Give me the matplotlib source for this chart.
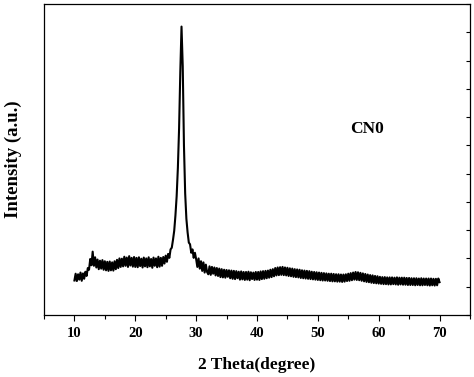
import numpy as np
import matplotlib.pyplot as plt
from matplotlib.ticker import MultipleLocator

# 2 theta scan grid (0.2 degree step, 10 to 70 degree)
two_theta = np.round(np.arange(10.0, 70.0001, 0.2), 1)

# intensity (arbitrary units), ten points per row
intensity = [
    1.22, 1.46, 1.20, 1.44, 1.25, 1.50, 1.21, 1.47, 1.28, 1.53,
    1.38, 1.66, 1.60, 1.98, 1.76, 2.24, 1.74, 2.04, 1.68, 1.96,
    1.62, 1.92, 1.64, 1.94, 1.60, 1.90, 1.58, 1.88, 1.56, 1.89,
    1.58, 1.86, 1.57, 1.90, 1.62, 1.95, 1.66, 2.00, 1.70, 1.99,
    1.72, 2.06, 1.74, 2.03, 1.70, 2.08, 1.75, 2.02, 1.71, 2.05,
    1.70, 2.02, 1.69, 2.04, 1.73, 1.99, 1.68, 2.03, 1.72, 2.00,
    1.69, 2.04, 1.72, 1.98, 1.67, 2.03, 1.74, 2.00, 1.69, 2.06,
    1.71, 2.02, 1.74, 2.05, 1.82, 2.10, 1.88, 2.16, 2.02, 2.32,
    2.38, 2.66, 2.98, 3.52, 4.20, 5.20, 6.60, 8.60, 10.20, 8.80,
    6.00, 4.30, 3.40, 2.92, 2.56, 2.50, 2.20, 2.32, 2.02, 2.20,
    1.98, 1.70, 2.00, 1.64, 1.90, 1.56, 1.86, 1.50, 1.78, 1.52,
    1.44, 1.72, 1.42, 1.70, 1.46, 1.68, 1.40, 1.66, 1.38, 1.64,
    1.34, 1.62, 1.33, 1.60, 1.32, 1.59, 1.35, 1.58, 1.30, 1.57,
    1.28, 1.56, 1.27, 1.55, 1.30, 1.53, 1.25, 1.54, 1.26, 1.52,
    1.24, 1.52, 1.25, 1.53, 1.23, 1.51, 1.27, 1.50, 1.24, 1.52,
    1.25, 1.52, 1.24, 1.54, 1.27, 1.55, 1.28, 1.56, 1.30, 1.57,
    1.32, 1.60, 1.34, 1.62, 1.37, 1.66, 1.40, 1.68, 1.41, 1.69,
    1.42, 1.70, 1.41, 1.68, 1.40, 1.67, 1.38, 1.65, 1.37, 1.64,
    1.35, 1.62, 1.34, 1.61, 1.33, 1.60, 1.31, 1.58, 1.30, 1.57,
    1.29, 1.56, 1.28, 1.55, 1.27, 1.53, 1.26, 1.52, 1.25, 1.51,
    1.24, 1.50, 1.23, 1.49, 1.22, 1.48, 1.22, 1.47, 1.21, 1.46,
    1.20, 1.46, 1.19, 1.45, 1.19, 1.44, 1.18, 1.44, 1.18, 1.43,
    1.17, 1.43, 1.18, 1.44, 1.20, 1.46, 1.21, 1.48, 1.23, 1.50,
    1.25, 1.52, 1.24, 1.51, 1.23, 1.49, 1.21, 1.47, 1.19, 1.45,
    1.17, 1.43, 1.16, 1.41, 1.14, 1.40, 1.13, 1.38, 1.12, 1.37,
    1.11, 1.35, 1.10, 1.34, 1.09, 1.34, 1.09, 1.33, 1.08, 1.33,
    1.08, 1.33, 1.09, 1.32, 1.08, 1.33, 1.07, 1.32, 1.08, 1.32,
    1.07, 1.32, 1.07, 1.31, 1.06, 1.31, 1.06, 1.30, 1.06, 1.30,
    1.05, 1.30, 1.06, 1.29, 1.05, 1.30, 1.05, 1.29, 1.06, 1.29,
    1.05, 1.29, 1.04, 1.29, 1.05, 1.28, 1.04, 1.28, 1.05, 1.29,
    1.16,
]

sample_label = "CN0"

plt.rcParams['font.family'] = ['Liberation Serif', 'DejaVu Serif']
plt.rcParams['font.weight'] = 'bold'

fig = plt.figure(figsize=(4.74, 3.77), dpi=100)
ax = fig.add_axes([0.0928, 0.1645, 0.8987, 0.825])

ax.plot(two_theta, intensity, color='black', lw=1.5)

ax.set_xlim(5, 75)
ax.set_ylim(0, 11)

ax.xaxis.set_major_locator(MultipleLocator(10))
ax.xaxis.set_minor_locator(MultipleLocator(5))
ax.tick_params(axis='x', which='major', direction='out', length=4, width=0.8,
               labelsize=10.5, pad=4.5)
ax.tick_params(axis='x', which='minor', direction='out', length=3, width=0.8)

# right side carries the intensity ticks, pointing inward, without labels
ax.yaxis.set_major_locator(MultipleLocator(1))
ax.tick_params(axis='y', which='both', left=False, labelleft=False,
               right=True, direction='in', length=3, width=0.8)

for s in ax.spines.values():
    s.set_linewidth(0.9)

ax.set_xlabel("2 Theta(degree)", fontsize=12.5, fontweight='bold', va='center')
ax.xaxis.set_label_coords(0.5, -0.161)
ax.set_ylabel("Intensity (a.u.)", fontsize=13.5, fontweight='bold', va='center')
ax.yaxis.set_label_coords(-0.073, 0.50)

ax.text(58, 6.57, sample_label, fontsize=12.5, fontweight='bold',
        ha='center', va='center')

fig.savefig("out.png", dpi=100)
